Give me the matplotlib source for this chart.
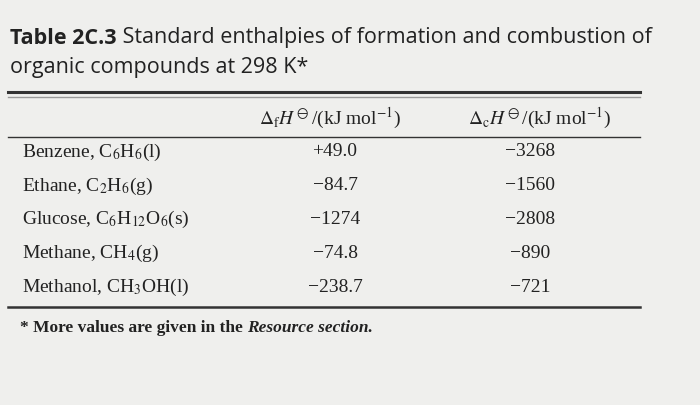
import matplotlib
matplotlib.use('Agg')
import matplotlib.pyplot as plt

plt.rcParams['mathtext.fontset'] = 'stix'

names = ['Benzene, C$_6$H$_6$(l)', 'Ethane, C$_2$H$_6$(g)', 'Glucose, C$_6$H$_{12}$O$_6$(s)',
         'Methane, CH$_4$(g)', 'Methanol, CH$_3$OH(l)']
formation = ['+49.0', '\u221284.7', '\u22121274', '\u221274.8', '\u2212238.7']
combustion = ['\u22123268', '\u22121560', '\u22122808', '\u2212890', '\u2212721']
headers = [r'$\Delta_\mathrm{f}H^\ominus$/(kJ mol$^{-1}$)', r'$\Delta_\mathrm{c}H^\ominus$/(kJ mol$^{-1}$)']

fig = plt.figure(figsize=(7, 4.05), dpi=100, facecolor='#efefed')
ax = fig.add_axes([0, 0, 1, 1])
ax.set_xlim(0, 700)
ax.set_ylim(405, 0)
ax.axis('off')

t1 = ax.text(10, 38, 'Table 2C.3', fontsize=15.5, fontweight='bold', family='Open Sans', color='#222', va='center')
ax.annotate(' Standard enthalpies of formation and combustion of', xy=(1, 0.5), xycoords=t1,
            fontsize=15.5, family='Open Sans', color='#222', va='center')
ax.text(10, 67, 'organic compounds at 298 K*', fontsize=15.5, family='Open Sans', color='#222', va='center')

ax.plot([8, 640], [92, 92], color='#333', lw=2.2)
ax.plot([8, 640], [97, 97], color='#999', lw=1)
ax.plot([8, 640], [137, 137], color='#333', lw=1)
ax.plot([8, 640], [307, 307], color='#333', lw=1.8)

serif = 'Liberation Serif'
ax.text(330, 118, headers[0], fontsize=14, family=serif, ha='center', va='center', color='#222')
ax.text(540, 118, headers[1], fontsize=14, family=serif, ha='center', va='center', color='#222')

rows_y = [152, 186, 219, 253, 287]
for y, n, f, c in zip(rows_y, names, formation, combustion):
    ax.text(22, y, n, fontsize=14, family=serif, va='center', color='#222')
    ax.text(335, y, f, fontsize=14, family=serif, ha='center', va='center', color='#222')
    ax.text(530, y, c, fontsize=14, family=serif, ha='center', va='center', color='#222')

f1 = ax.text(20, 328, '* More values are given in the ', fontsize=12.5, family=serif,
             fontweight='bold', va='center', color='#222')
ax.annotate('Resource section.', xy=(1, 0.5), xycoords=f1, fontsize=12.5, family=serif,
            fontweight='bold', style='italic', va='center', color='#222')

fig.savefig('out.png', dpi=100, facecolor=fig.get_facecolor())
